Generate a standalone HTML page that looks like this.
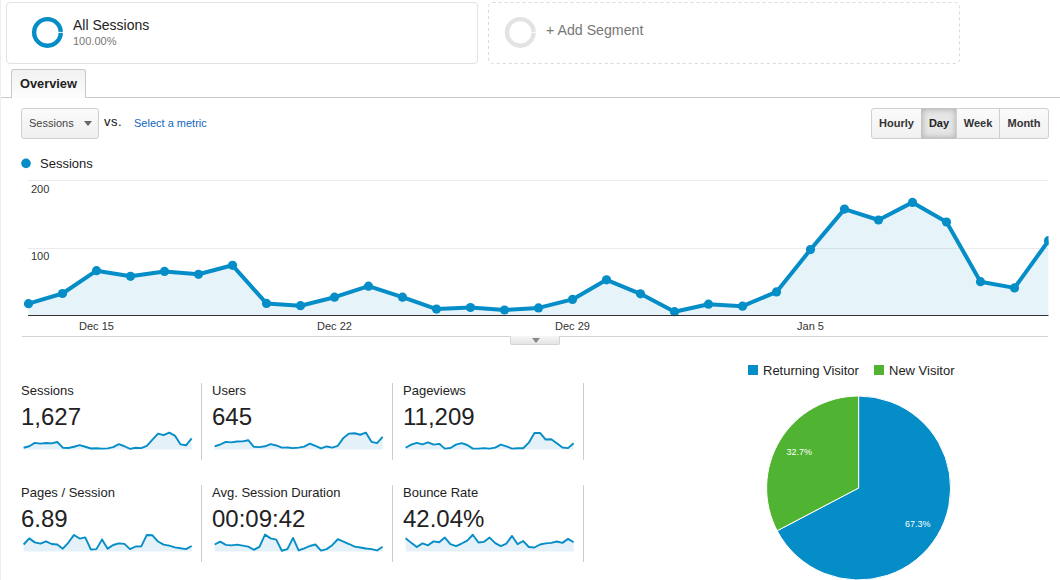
<!DOCTYPE html>
<html><head><meta charset="utf-8"><title>Audience Overview</title>
<style>
*{box-sizing:border-box}
html,body{margin:0;padding:0}
body{width:1060px;height:580px;overflow:hidden;position:relative;background:#fff;font-family:"Liberation Sans",Arial,sans-serif;color:#222}
.a{position:absolute}
.t{position:absolute;white-space:nowrap;line-height:1}
.stripe{left:0;top:0;width:1px;height:580px;background:#eee}
.seg{left:6px;top:2px;width:472px;height:62px;border:1px solid #e2e2e2;border-radius:4px;background:#fff}
.tabline{left:1px;top:97px;width:1059px;height:1px;background:#cbcbcb}
.tab{left:11px;top:69px;width:75px;height:29px;border:1px solid #c8c8c8;border-bottom:none;border-radius:3px 3px 0 0;background:linear-gradient(#f1f1f1,#fdfdfd)}
.dd{left:21px;top:108px;width:78px;height:31px;border:1px solid #d0d0d0;border-radius:3px;background:linear-gradient(#fbfbfb,#efefef)}
.dd:after{content:"";position:absolute;left:61.5px;top:12px;border-left:4px solid transparent;border-right:4px solid transparent;border-top:5px solid #666}
.btns{left:871px;top:108px;height:31px;display:flex}
.btn{height:31px;border:1px solid #cfcfcf;background:linear-gradient(#fbfbfb,#f0f0f0);font-weight:bold;font-size:11px;color:#333;text-align:center;line-height:29px;margin-left:-1px}
.btn:first-child{margin-left:0;border-radius:3px 0 0 3px}
.btn:last-child{border-radius:0 3px 3px 0}
.btn.on{background:#e6e6e6;box-shadow:inset 0 0 6px rgba(0,0,0,.28);border-color:#c4c4c4;color:#222}
.div{width:1px;background:#cdcdcd}
.spark{position:absolute}
.handle{left:510px;top:336px;width:50px;height:9px;border:1px solid #d4d4d4;border-top:none;border-radius:0 0 2px 2px;background:linear-gradient(#f6f6f6,#e4e4e4)}
.handle:after{content:"";position:absolute;left:20.5px;top:2px;border-left:4px solid transparent;border-right:4px solid transparent;border-top:5px solid #888}
.lab{font-size:13px;color:#222}
.val{font-size:24px;color:#222}
</style></head><body>
<div class="a stripe"></div>

<!-- segments -->
<div class="a seg"></div>
<svg class="a" style="left:0;top:0" width="120" height="64" viewBox="0 0 120 64">
  <circle cx="47.45" cy="32.4" r="13.3" fill="none" stroke="#058dc7" stroke-width="4.4"/>
  <rect x="57" y="31.9" width="8" height="0.9" fill="#fff"/>
</svg>
<div class="t" style="left:73px;top:18.2px;font-size:14px;color:#222">All Sessions</div>
<div class="t" style="left:73px;top:35.7px;font-size:11px;color:#777">100.00%</div>

<svg class="a" style="left:0;top:0" width="1060" height="70" viewBox="0 0 1060 70"><rect x="488.5" y="2.5" width="471" height="61" rx="4" fill="#fff" stroke="#d9d9d9" stroke-width="1" stroke-dasharray="3 3"/></svg>
<svg class="a" style="left:490px;top:0" width="60" height="64" viewBox="490 0 60 64">
  <circle cx="520.3" cy="32.4" r="13.3" fill="none" stroke="#e3e3e3" stroke-width="4.4"/>
  <rect x="530" y="31.9" width="8" height="0.9" fill="#fff"/>
</svg>
<div class="t" style="left:546px;top:23.2px;font-size:14.2px;color:#777">+ Add Segment</div>

<!-- tab -->
<div class="a tabline"></div>
<div class="a tab"></div>
<div class="t" style="left:20px;top:78px;font-size:12.8px;font-weight:bold;color:#222">Overview</div>

<!-- controls -->
<div class="a dd"></div>
<div class="t" style="left:29px;top:117.7px;font-size:11px;color:#444">Sessions</div>
<div class="t" style="left:104px;top:115px;font-size:13px;letter-spacing:0.5px;color:#111">vs.</div>
<div class="t" style="left:134px;top:117.7px;font-size:11px;color:#1266c0">Select a metric</div>

<div class="a btns">
  <div class="btn" style="width:51px">Hourly</div>
  <div class="btn on" style="width:36px">Day</div>
  <div class="btn" style="width:44px">Week</div>
  <div class="btn" style="width:50px">Month</div>
</div>

<!-- legend -->
<svg class="a" style="left:0;top:150px" width="40" height="30"><circle cx="26" cy="13.4" r="4.8" fill="#058dc7"/></svg>
<div class="t" style="left:40px;top:156.6px;font-size:13px;color:#222">Sessions</div>

<!-- chart -->
<svg class="a" style="left:0;top:0" width="1060" height="350" viewBox="0 0 1060 350">
  <defs><clipPath id="cp"><rect x="18" y="170" width="1030.5" height="150"/></clipPath></defs>
  <rect x="28" y="180" width="1020.5" height="1" fill="#ebebeb"/>
  <rect x="28" y="248" width="1020.5" height="1" fill="#ebebeb"/>
  <g clip-path="url(#cp)">
    <path d="M28.5,315 L28.5,303.7 L62.5,293.5 L96.5,270.7 L130.5,276.3 L164.5,271.4 L198.5,274.3 L232.5,265.3 L266.5,303.4 L300.5,305.7 L334.5,297.2 L368.5,286.2 L402.5,297.2 L436.5,309.1 L470.5,307.5 L504.5,310 L538.5,307.9 L572.5,299.4 L606.5,279.8 L640.5,293.8 L674.5,311.7 L708.5,304.2 L742.5,306.2 L776.5,291.9 L810.5,249.6 L844.5,209.1 L878.5,220 L912.5,202.4 L946.5,222 L980.5,281.7 L1014.5,287.9 L1048.5,240.7 L1048.5,315 Z" fill="#058dc7" fill-opacity="0.1"/>
    <polyline points="28.5,303.7 62.5,293.5 96.5,270.7 130.5,276.3 164.5,271.4 198.5,274.3 232.5,265.3 266.5,303.4 300.5,305.7 334.5,297.2 368.5,286.2 402.5,297.2 436.5,309.1 470.5,307.5 504.5,310 538.5,307.9 572.5,299.4 606.5,279.8 640.5,293.8 674.5,311.7 708.5,304.2 742.5,306.2 776.5,291.9 810.5,249.6 844.5,209.1 878.5,220 912.5,202.4 946.5,222 980.5,281.7 1014.5,287.9 1048.5,240.7" fill="none" stroke="#058dc7" stroke-width="4" stroke-linejoin="round"/>
    <g fill="#058dc7"><circle cx="28.5" cy="303.7" r="4.6"/><circle cx="62.5" cy="293.5" r="4.6"/><circle cx="96.5" cy="270.7" r="4.6"/><circle cx="130.5" cy="276.3" r="4.6"/><circle cx="164.5" cy="271.4" r="4.6"/><circle cx="198.5" cy="274.3" r="4.6"/><circle cx="232.5" cy="265.3" r="4.6"/><circle cx="266.5" cy="303.4" r="4.6"/><circle cx="300.5" cy="305.7" r="4.6"/><circle cx="334.5" cy="297.2" r="4.6"/><circle cx="368.5" cy="286.2" r="4.6"/><circle cx="402.5" cy="297.2" r="4.6"/><circle cx="436.5" cy="309.1" r="4.6"/><circle cx="470.5" cy="307.5" r="4.6"/><circle cx="504.5" cy="310" r="4.6"/><circle cx="538.5" cy="307.9" r="4.6"/><circle cx="572.5" cy="299.4" r="4.6"/><circle cx="606.5" cy="279.8" r="4.6"/><circle cx="640.5" cy="293.8" r="4.6"/><circle cx="674.5" cy="311.7" r="4.6"/><circle cx="708.5" cy="304.2" r="4.6"/><circle cx="742.5" cy="306.2" r="4.6"/><circle cx="776.5" cy="291.9" r="4.6"/><circle cx="810.5" cy="249.6" r="4.6"/><circle cx="844.5" cy="209.1" r="4.6"/><circle cx="878.5" cy="220" r="4.6"/><circle cx="912.5" cy="202.4" r="4.6"/><circle cx="946.5" cy="222" r="4.6"/><circle cx="980.5" cy="281.7" r="4.6"/><circle cx="1014.5" cy="287.9" r="4.6"/><circle cx="1048.5" cy="240.7" r="4.6"/></g>
  </g>
  <rect x="28" y="315" width="1020.5" height="1" fill="#333"/>
  <rect x="22" y="336" width="1026" height="1" fill="#d4d4d4"/>
</svg>
<div class="t" style="left:31px;top:183.7px;font-size:11px;color:#333">200</div>
<div class="t" style="left:31px;top:250.6px;font-size:11px;color:#333">100</div>
<div class="t" style="left:46.5px;width:100px;text-align:center;top:320.7px;font-size:11px;color:#333">Dec 15</div>
<div class="t" style="left:284.5px;width:100px;text-align:center;top:320.7px;font-size:11px;color:#333">Dec 22</div>
<div class="t" style="left:522.5px;width:100px;text-align:center;top:320.7px;font-size:11px;color:#333">Dec 29</div>
<div class="t" style="left:760.5px;width:100px;text-align:center;top:320.7px;font-size:11px;color:#333">Jan 5</div>
<div class="a handle"></div>

<!-- metrics -->
<div class="a" style="left:201px;top:383px;width:1px;height:77px;background:#cdcdcd"></div>
<div class="a" style="left:392px;top:383px;width:1px;height:77px;background:#cdcdcd"></div>
<div class="a" style="left:583px;top:383px;width:1px;height:77px;background:#cdcdcd"></div>
<div class="a" style="left:201px;top:485px;width:1px;height:77px;background:#cdcdcd"></div>
<div class="a" style="left:392px;top:485px;width:1px;height:77px;background:#cdcdcd"></div>
<div class="a" style="left:583px;top:485px;width:1px;height:77px;background:#cdcdcd"></div>

<div class="t lab" style="left:21px;top:384px">Sessions</div>
<div class="t val" style="left:21px;top:404.7px">1,627</div>
<div class="t lab" style="left:212px;top:384px">Users</div>
<div class="t val" style="left:212px;top:404.7px">645</div>
<div class="t lab" style="left:403px;top:384px">Pageviews</div>
<div class="t val" style="left:403px;top:404.7px">11,209</div>

<div class="t lab" style="left:21px;top:486px">Pages / Session</div>
<div class="t val" style="left:21px;top:506.7px">6.89</div>
<div class="t lab" style="left:212px;top:486px">Avg. Session Duration</div>
<div class="t val" style="left:212px;top:506.7px">00:09:42</div>
<div class="t lab" style="left:403px;top:486px">Bounce Rate</div>
<div class="t val" style="left:403px;top:506.7px">42.04%</div>

<svg class="spark" style="left:20px;top:426px" width="175" height="26" viewBox="0 0 175 26"><path d="M3.63,23.44 L3.63,21.72 L9.23,20.21 L14.83,16.83 L20.43,17.66 L26.03,16.94 L31.63,17.37 L37.23,16.03 L42.83,21.68 L48.43,22.02 L54.03,20.76 L59.63,19.13 L65.23,20.76 L70.83,22.53 L76.43,22.29 L82.03,22.66 L87.63,22.35 L93.23,21.09 L98.83,18.09 L104.43,20.26 L110.03,22.91 L115.63,21.8 L121.23,22.1 L126.84,19.92 L132.44,13.64 L138.04,7.61 L143.64,9.18 L149.24,6.6 L154.84,9.54 L160.44,18.36 L166.04,19.28 L171.64,12.38 L171.64,23.44 Z" fill="#e5f1f9"/><polyline points="3.63,21.72 9.23,20.21 14.83,16.83 20.43,17.66 26.03,16.94 31.63,17.37 37.23,16.03 42.83,21.68 48.43,22.02 54.03,20.76 59.63,19.13 65.23,20.76 70.83,22.53 76.43,22.29 82.03,22.66 87.63,22.35 93.23,21.09 98.83,18.09 104.43,20.26 110.03,22.91 115.63,21.8 121.23,22.1 126.84,19.92 132.44,13.64 138.04,7.61 143.64,9.18 149.24,6.6 154.84,9.54 160.44,18.36 166.04,19.28 171.64,12.38" fill="none" stroke="#058dc7" stroke-width="1.9" stroke-linejoin="round"/></svg><svg class="spark" style="left:211px;top:426px" width="175" height="26" viewBox="0 0 175 26"><path d="M3.63,23.44 L3.63,20.31 L9.23,18.49 L14.83,15.85 L20.43,16.34 L26.03,15.52 L31.63,15.35 L37.23,14.2 L42.83,20.8 L48.43,21.13 L54.03,20.31 L59.63,18.16 L65.23,19.48 L70.83,21.63 L76.43,21.46 L82.03,22.12 L87.63,21.63 L93.23,20.64 L98.83,17.67 L104.43,19.98 L110.03,22.45 L115.63,20.47 L121.23,21.63 L126.84,19.81 L132.44,11.89 L138.04,7.59 L143.64,7.26 L149.24,8.75 L154.84,6.6 L160.44,15.85 L166.04,17.17 L171.64,10.9 L171.64,23.44 Z" fill="#e5f1f9"/><polyline points="3.63,20.31 9.23,18.49 14.83,15.85 20.43,16.34 26.03,15.52 31.63,15.35 37.23,14.2 42.83,20.8 48.43,21.13 54.03,20.31 59.63,18.16 65.23,19.48 70.83,21.63 76.43,21.46 82.03,22.12 87.63,21.63 93.23,20.64 98.83,17.67 104.43,19.98 110.03,22.45 115.63,20.47 121.23,21.63 126.84,19.81 132.44,11.89 138.04,7.59 143.64,7.26 149.24,8.75 154.84,6.6 160.44,15.85 166.04,17.17 171.64,10.9" fill="none" stroke="#058dc7" stroke-width="1.9" stroke-linejoin="round"/></svg><svg class="spark" style="left:402px;top:426px" width="175" height="26" viewBox="0 0 175 26"><path d="M3.63,23.44 L3.63,21.79 L9.23,18.66 L14.83,16.84 L20.43,18.33 L26.03,16.34 L31.63,18.66 L37.23,17.83 L42.83,22.62 L48.43,21.96 L54.03,18.66 L59.63,17.17 L65.23,18.99 L70.83,22.62 L76.43,22.62 L82.03,22.12 L87.63,22.62 L93.23,21.63 L98.83,18.66 L104.43,20.47 L110.03,22.62 L115.63,22.29 L121.23,22.29 L126.84,16.67 L132.44,6.93 L138.04,6.93 L143.64,13.54 L149.24,13.21 L154.84,17.34 L160.44,21.46 L166.04,22.12 L171.64,17.17 L171.64,23.44 Z" fill="#e5f1f9"/><polyline points="3.63,21.79 9.23,18.66 14.83,16.84 20.43,18.33 26.03,16.34 31.63,18.66 37.23,17.83 42.83,22.62 48.43,21.96 54.03,18.66 59.63,17.17 65.23,18.99 70.83,22.62 76.43,22.62 82.03,22.12 87.63,22.62 93.23,21.63 98.83,18.66 104.43,20.47 110.03,22.62 115.63,22.29 121.23,22.29 126.84,16.67 132.44,6.93 138.04,6.93 143.64,13.54 149.24,13.21 154.84,17.34 160.44,21.46 166.04,22.12 171.64,17.17" fill="none" stroke="#058dc7" stroke-width="1.9" stroke-linejoin="round"/></svg><svg class="spark" style="left:20px;top:528px" width="175" height="26" viewBox="0 0 175 26"><path d="M3.63,23.44 L3.63,16.51 L9.23,10.4 L14.83,14.36 L20.43,15.68 L26.03,13.37 L31.63,16.01 L37.23,16.51 L42.83,20.64 L48.43,14.53 L54.03,6.93 L59.63,10.57 L65.23,9.41 L70.83,21.46 L76.43,21.13 L82.03,11.39 L87.63,20.64 L93.23,17.01 L98.83,15.35 L104.43,15.85 L110.03,21.13 L115.63,18.49 L121.23,18.33 L126.84,6.93 L132.44,7.26 L138.04,13.54 L143.64,16.67 L149.24,17.67 L154.84,19.32 L160.44,20.31 L166.04,21.13 L171.64,18 L171.64,23.44 Z" fill="#e5f1f9"/><polyline points="3.63,16.51 9.23,10.4 14.83,14.36 20.43,15.68 26.03,13.37 31.63,16.01 37.23,16.51 42.83,20.64 48.43,14.53 54.03,6.93 59.63,10.57 65.23,9.41 70.83,21.46 76.43,21.13 82.03,11.39 87.63,20.64 93.23,17.01 98.83,15.35 104.43,15.85 110.03,21.13 115.63,18.49 121.23,18.33 126.84,6.93 132.44,7.26 138.04,13.54 143.64,16.67 149.24,17.67 154.84,19.32 160.44,20.31 166.04,21.13 171.64,18" fill="none" stroke="#058dc7" stroke-width="1.9" stroke-linejoin="round"/></svg><svg class="spark" style="left:211px;top:528px" width="175" height="26" viewBox="0 0 175 26"><path d="M3.63,23.44 L3.63,16.51 L9.23,13.7 L14.83,16.84 L20.43,17.34 L26.03,16.67 L31.63,17.67 L37.23,18.66 L42.83,21.79 L48.43,18.82 L54.03,6.6 L59.63,10.4 L65.23,11.56 L70.83,22.78 L76.43,21.13 L82.03,9.91 L87.63,22.45 L93.23,20.47 L98.83,18 L104.43,16.51 L110.03,22.62 L115.63,21.13 L121.23,17.17 L126.84,11.23 L132.44,13.54 L138.04,16.01 L143.64,18.66 L149.24,19.48 L154.84,20.47 L160.44,21.13 L166.04,22.45 L171.64,18.82 L171.64,23.44 Z" fill="#e5f1f9"/><polyline points="3.63,16.51 9.23,13.7 14.83,16.84 20.43,17.34 26.03,16.67 31.63,17.67 37.23,18.66 42.83,21.79 48.43,18.82 54.03,6.6 59.63,10.4 65.23,11.56 70.83,22.78 76.43,21.13 82.03,9.91 87.63,22.45 93.23,20.47 98.83,18 104.43,16.51 110.03,22.62 115.63,21.13 121.23,17.17 126.84,11.23 132.44,13.54 138.04,16.01 143.64,18.66 149.24,19.48 154.84,20.47 160.44,21.13 166.04,22.45 171.64,18.82" fill="none" stroke="#058dc7" stroke-width="1.9" stroke-linejoin="round"/></svg><svg class="spark" style="left:402px;top:528px" width="175" height="26" viewBox="0 0 175 26"><path d="M3.63,23.44 L3.63,10.24 L9.23,14.86 L14.83,18.99 L20.43,15.35 L26.03,17.34 L31.63,13.37 L37.23,14.2 L42.83,9.58 L48.43,16.18 L54.03,18.16 L59.63,15.52 L65.23,12.55 L70.83,6.77 L76.43,14.53 L82.03,13.87 L87.63,9.58 L93.23,15.19 L98.83,18.16 L104.43,15.52 L110.03,7.92 L115.63,16.18 L121.23,13.04 L126.84,18.99 L132.44,19.48 L138.04,16.51 L143.64,15.35 L149.24,14.86 L154.84,13.54 L160.44,14.86 L166.04,10.9 L171.64,14.2 L171.64,23.44 Z" fill="#e5f1f9"/><polyline points="3.63,10.24 9.23,14.86 14.83,18.99 20.43,15.35 26.03,17.34 31.63,13.37 37.23,14.2 42.83,9.58 48.43,16.18 54.03,18.16 59.63,15.52 65.23,12.55 70.83,6.77 76.43,14.53 82.03,13.87 87.63,9.58 93.23,15.19 98.83,18.16 104.43,15.52 110.03,7.92 115.63,16.18 121.23,13.04 126.84,18.99 132.44,19.48 138.04,16.51 143.64,15.35 149.24,14.86 154.84,13.54 160.44,14.86 166.04,10.9 171.64,14.2" fill="none" stroke="#058dc7" stroke-width="1.9" stroke-linejoin="round"/></svg>

<!-- pie -->
<div class="a" style="left:748px;top:365px;width:10px;height:10px;background:#058dc7"></div>
<div class="t" style="left:763px;top:363.6px;font-size:13px;color:#222">Returning Visitor</div>
<div class="a" style="left:874px;top:365px;width:10px;height:10px;background:#50b432"></div>
<div class="t" style="left:889px;top:363.6px;font-size:13px;color:#222">New Visitor</div>
<svg class="a" style="left:0;top:0" width="1060" height="580" viewBox="0 0 1060 580">
  <path d="M858.6,488 L858.6,396 A92,92 0 1 1 777.16,530.79 Z" fill="#058dc7" stroke="#fff" stroke-width="1" stroke-linejoin="round"/>
  <path d="M858.6,488 L858.6,396 A92,92 0 0 0 777.16,530.79 Z" fill="#50b432" stroke="#fff" stroke-width="1" stroke-linejoin="round"/>
</svg>
<div class="t" style="left:786.5px;top:447.5px;font-size:9px;color:#fff">32.7%</div>
<div class="t" style="left:905px;top:519.7px;font-size:9px;color:#fff">67.3%</div>
</body></html>
